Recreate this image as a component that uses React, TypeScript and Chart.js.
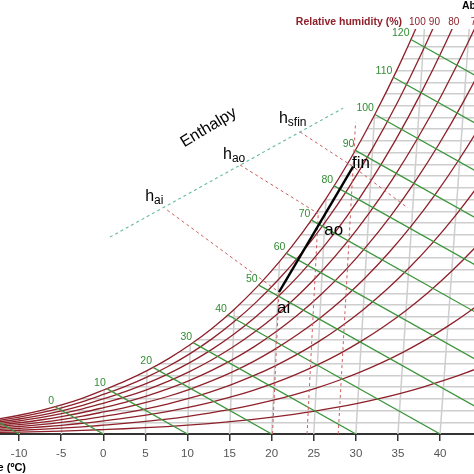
import { useEffect, useRef } from 'react';
import { Chart, registerables } from 'chart.js';

Chart.register(...registerables);

const FONT = '"Liberation Sans", Arial, Helvetica, sans-serif';
const PRESSURE_KPA = 101.325;

// Dry-bulb temperatures (ºC) and saturation vapour pressure (kPa, over ice below 0 ºC)
const TEMPS = [-15, -12.5, -10, -7.5, -5, -2.5, 0, 2.5, 5, 7.5, 10, 12.5, 15, 17.5, 20, 22.5, 25, 27.5, 30, 32.5, 35, 37.5, 40, 42.5, 45];
const SAT_PRESSURE_KPA = [0.1653, 0.2078, 0.26, 0.3238, 0.4017, 0.4966, 0.6112, 0.7317, 0.8726, 1.037, 1.2282, 1.4497, 1.7058, 2.0006, 2.3392, 2.7264, 3.169, 3.6729, 4.247, 4.8953, 5.629, 6.4547, 7.3849, 8.4227, 9.5898];

// Relative humidity curves (%)
const RH_LEVELS = [10, 20, 30, 40, 50, 60, 70, 80, 90, 100];

// Grid: dry-bulb lines (ºC) and humidity ratio lines (g/kg)
const DRY_BULB_LINES = [-10, -5, 0, 5, 10, 15, 20, 25, 30, 35, 40, 45];
const HUMIDITY_LINES = [1, 2, 3, 4, 5, 6, 7, 8, 9, 10, 11, 12, 13, 14, 15, 16, 17, 18, 19, 20, 21, 22, 23, 24, 25, 26, 27, 28, 29, 30, 31, 32, 33, 34];

// Enthalpy lines (kJ/kg): where each meets the saturation curve
const ENTHALPY_LEVELS = [-10, 0, 10, 20, 30, 40, 50, 60, 70, 80, 90, 100, 110, 120];
const ENTHALPY_SAT_TEMPS = [-12.95, -5.75, 0.31, 5.7, 10.31, 14.27, 17.71, 20.75, 23.45, 25.86, 28.05, 30.04, 31.86, 33.52];
const ENTHALPY_SAT_HUMIDITY = [1.22, 2.32, 3.87, 5.68, 7.79, 10.15, 12.7, 15.41, 18.24, 21.17, 24.19, 27.26, 30.43, 33.68];

// Air states (ºC, g/kg)
const STATE_NAMES = ['ai', 'ao', 'fin'];
const STATE_TEMPS = [20.1, 24.2, 27.9];
const STATE_HUMIDITY = [12.1, 18.8, 22.8];
const STATE_MARKER_TOP = [12.1, 18.8, 26.6];

// Enthalpy read-off scale and its marks
const SCALE_NAMES = ['ai', 'ao', 'sfin'];
const SCALE_TEMPS = [6.85, 15.0, 21.65];
const SCALE_HUMIDITY = [19.1, 22.95, 25.77];
const SCALE_LINE_TEMPS = [0.35, 26.4];
const SCALE_LINE_HUMIDITY = [16.8, 27.8];
const SFIN_TAIL_TEMP = 34.46;
const SFIN_TAIL_HUMIDITY = 19.27;

const X_MIN = -12.27;
const X_MAX = 44.03;
const Y_MAX = 34.55;

// Oblique chart projection: dry-bulb lines lean with humidity ratio
const SKEW_BASE = 0.0261;
const SKEW_PER_DEG = 0.00185;
const proj = (t: number, w: number) => ({ x: t + w * (SKEW_BASE + SKEW_PER_DEG * t), y: w });

const humidityRatio = (ps: number, rh: number) => {
  const pv = (ps * rh) / 100;
  return (621.98 * pv) / (PRESSURE_KPA - pv);
};

const GRID_COLOR = 'rgb(206,206,206)';
const RH_COLOR = 'rgb(142,32,42)';
const ENTH_COLOR = 'rgb(60,150,60)';
const ENTH_LABEL_COLOR = 'rgb(50,140,50)';
const DASH_RED = 'rgb(205,95,95)';
const DASH_TEAL = 'rgb(100,185,165)';

const seg = (data: { x: number; y: number }[], color: string, width: number, order: number, extra: any = {}) => ({
  data,
  showLine: true,
  borderColor: color,
  backgroundColor: color,
  borderWidth: width,
  pointRadius: 0,
  pointHoverRadius: 0,
  tension: 0,
  fill: false,
  order,
  ...extra,
});

function buildDatasets() {
  const datasets: any[] = [];

  DRY_BULB_LINES.forEach((t) => {
    const ws = humidityRatio(SAT_PRESSURE_KPA[TEMPS.indexOf(t)], 100);
    datasets.push(seg([proj(t, 0), proj(t, ws)], GRID_COLOR, 1.5, 7));
  });

  const rhIndex: number[] = [];
  RH_LEVELS.forEach((rh) => {
    const data = TEMPS.map((t, i) => proj(t, humidityRatio(SAT_PRESSURE_KPA[i], rh)));
    const extra: any = { cubicInterpolationMode: 'monotone' };
    if (rh === 100) {
      extra.fill = 'end';
      extra.backgroundColor = '#ffffff';
    }
    rhIndex.push(datasets.length);
    datasets.push(seg(data, RH_COLOR, 1.3, rh === 100 ? 6 : 5, extra));
  });

  const enthIndex: number[] = [];
  ENTHALPY_LEVELS.forEach((h, i) => {
    enthIndex.push(datasets.length);
    datasets.push(seg([proj(ENTHALPY_SAT_TEMPS[i], ENTHALPY_SAT_HUMIDITY[i]), proj(h, 0)], ENTH_COLOR, 1.3, 4));
  });

  // enthalpy read-off line
  datasets.push(
    seg(
      [proj(SCALE_LINE_TEMPS[0], SCALE_LINE_HUMIDITY[0]), proj(SCALE_LINE_TEMPS[1], SCALE_LINE_HUMIDITY[1])],
      DASH_TEAL, 1.1, 3, { borderDash: [3, 3] }
    )
  );

  // dashed links from the scale marks to the states
  SCALE_NAMES.forEach((_, i) => {
    const pts = [proj(SCALE_TEMPS[i], SCALE_HUMIDITY[i]), proj(STATE_TEMPS[i], STATE_HUMIDITY[i])];
    if (i === 2) pts.push(proj(SFIN_TAIL_TEMP, SFIN_TAIL_HUMIDITY));
    datasets.push(seg(pts, DASH_RED, 1, 3, { borderDash: [3, 3] }));
  });

  // dashed dry-bulb markers under each state
  STATE_NAMES.forEach((_, i) => {
    datasets.push(
      seg([proj(STATE_TEMPS[i], 0), proj(STATE_TEMPS[i], STATE_MARKER_TOP[i])], DASH_RED, 1, 3, { borderDash: [3, 3] })
    );
  });

  // process line ai -> fin
  datasets.push(
    seg([proj(STATE_TEMPS[0], STATE_HUMIDITY[0]), proj(STATE_TEMPS[2], STATE_HUMIDITY[2])], '#000000', 2.4, 1)
  );

  return { datasets, rhIndex, enthIndex };
}

export default function App() {
  const ref = useRef<HTMLCanvasElement>(null);

  useEffect(() => {
    if (!ref.current) return;
    const { datasets, rhIndex, enthIndex } = buildDatasets();

    const labelPlugin = {
      id: 'psychroLabels',
      afterDraw(chart: any) {
        const { ctx, chartArea } = chart;
        const xs = chart.scales.x;
        const ys = chart.scales.y;
        const toPx = (t: number, w: number) => {
          const p = proj(t, w);
          return { x: xs.getPixelForValue(p.x), y: ys.getPixelForValue(p.y) };
        };
        ctx.save();

        // enthalpy values along the saturation curve
        ctx.fillStyle = ENTH_LABEL_COLOR;
        ctx.font = `10.5px ${FONT}`;
        ctx.textAlign = 'right';
        ctx.textBaseline = 'alphabetic';
        ENTHALPY_LEVELS.forEach((h, i) => {
          const pt = chart.getDatasetMeta(enthIndex[i]).data[0];
          ctx.fillText(String(h), pt.x - 1, pt.y - 3);
        });

        // relative humidity values where each curve leaves the top
        const top = chartArea.top;
        ctx.fillStyle = RH_COLOR;
        ctx.textAlign = 'center';
        ctx.font = `10px ${FONT}`;
        RH_LEVELS.forEach((rh, k) => {
          const pts = chart.getDatasetMeta(rhIndex[k]).data;
          for (let j = 0; j < pts.length - 1; j++) {
            const a = pts[j];
            const b = pts[j + 1];
            if (a.y >= top && b.y < top) {
              const x = a.x + ((b.x - a.x) * (a.y - top)) / (a.y - b.y);
              ctx.fillText(String(rh), x + 2, 25);
              break;
            }
          }
        });
        ctx.font = `bold 10.5px ${FONT}`;
        ctx.textAlign = 'right';
        ctx.fillText('Relative humidity (%)', 402, 25);

        ctx.fillStyle = '#000000';
        ctx.textAlign = 'left';
        ctx.fillText('Absolute humidity (g/kg)', 462, 9);

        // axis title
        ctx.textAlign = 'right';
        ctx.font = `bold 11px ${FONT}`;
        ctx.fillText('Temperature (ºC)', 26, 471);

        // state labels
        ctx.textAlign = 'left';
        ctx.font = `17px ${FONT}`;
        const stateOffsets = [
          [-2, 21],
          [6, 21],
          [-1, 1],
        ];
        STATE_NAMES.forEach((name, i) => {
          const p = toPx(STATE_TEMPS[i], STATE_HUMIDITY[i]);
          ctx.fillText(name, p.x + stateOffsets[i][0], p.y + stateOffsets[i][1]);
        });

        // h labels on the enthalpy scale
        const hOffsets = [
          [-22, -9],
          [-17, -6],
          [-21, -9],
        ];
        SCALE_NAMES.forEach((name, i) => {
          const p = toPx(SCALE_TEMPS[i], SCALE_HUMIDITY[i]);
          const x0 = p.x + hOffsets[i][0];
          const y0 = p.y + hOffsets[i][1];
          ctx.font = `16px ${FONT}`;
          ctx.fillText('h', x0, y0);
          const hw = ctx.measureText('h').width;
          ctx.font = `12px ${FONT}`;
          ctx.fillText(name, x0 + hw, y0 + 3);
        });

        // rotated scale title
        const a = toPx(SCALE_LINE_TEMPS[0], SCALE_LINE_HUMIDITY[0]);
        const b = toPx(SCALE_LINE_TEMPS[1], SCALE_LINE_HUMIDITY[1]);
        const ang = Math.atan2(b.y - a.y, b.x - a.x);
        ctx.translate((a.x + b.x) / 2 - 18, (a.y + b.y) / 2 - 45);
        ctx.rotate(ang - 0.04);
        ctx.font = `16px ${FONT}`;
        ctx.textAlign = 'center';
        ctx.textBaseline = 'middle';
        ctx.fillText('Enthalpy', 0, 0);

        ctx.restore();
      },
    };

    const chart = new Chart(ref.current, {
      type: 'scatter',
      data: { datasets },
      options: {
        responsive: false,
        maintainAspectRatio: false,
        animation: false,
        events: [],
        layout: { padding: { top: 29, left: 0, right: 0, bottom: 0 } },
        plugins: {
          legend: { display: false },
          tooltip: { enabled: false },
          title: { display: false },
        },
        scales: {
          x: {
            type: 'linear',
            position: 'bottom',
            min: X_MIN,
            max: X_MAX,
            border: { display: true, color: '#333333', width: 2 },
            grid: { drawOnChartArea: false, drawTicks: true, tickLength: 7, color: '#333333', lineWidth: 1.5 },
            ticks: {
              stepSize: 5,
              includeBounds: false,
              color: '#555555',
              padding: 6,
              maxRotation: 0,
              autoSkip: false,
              font: { family: FONT, size: 11.5 },
            },
            afterFit: (s: any) => {
              s.height = 40;
            },
          },
          y: {
            type: 'linear',
            position: 'left',
            min: 0,
            max: Y_MAX,
            border: { display: false },
            grid: { color: GRID_COLOR, lineWidth: 1.5, drawTicks: false },
            ticks: { display: false },
            afterBuildTicks: (s: any) => {
              s.ticks = HUMIDITY_LINES.map((v) => ({ value: v }));
            },
            afterFit: (s: any) => {
              s.width = 0;
            },
          },
        },
      },
      plugins: [labelPlugin],
    } as any);

    return () => chart.destroy();
  }, []);

  return (
    <div
      style={{
        position: 'fixed',
        left: 0,
        top: 0,
        width: 474,
        height: 474,
        overflow: 'hidden',
        background: '#ffffff',
      }}
    >
      <canvas ref={ref} width={474} height={474} style={{ display: 'block' }} />
    </div>
  );
}
